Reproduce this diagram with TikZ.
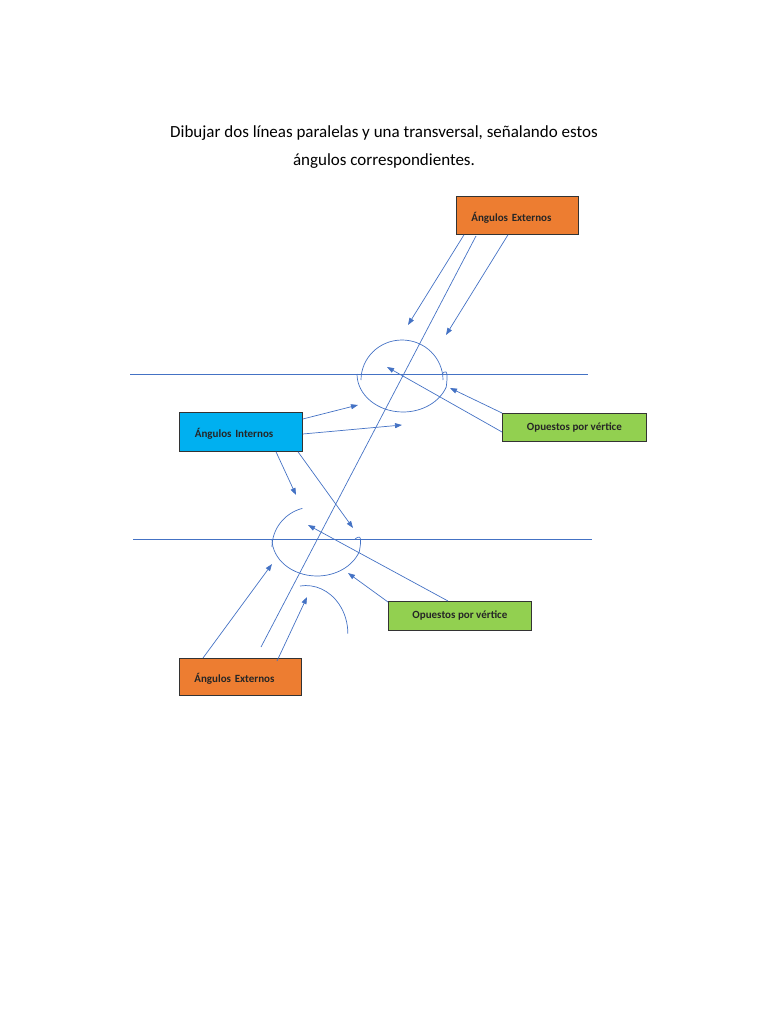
\documentclass[tikz,border=0pt]{standalone}
\usepackage{fontspec}
\setmainfont{Carlito}
\usetikzlibrary{arrows.meta}
\definecolor{ln}{HTML}{4472C4}
\definecolor{org}{HTML}{ED7D31}
\definecolor{blu}{HTML}{00B0F0}
\definecolor{grn}{HTML}{92D050}
\begin{document}
\begin{tikzpicture}[x=1pt,y=-1pt,
  lbl/.style={draw=black!80,line width=0.8pt,anchor=north west,inner sep=0pt,minimum height=#1,font=\fontsize{11}{13}\selectfont\bfseries,text=black!85},
  ln/.style={draw=ln,line width=0.7pt},
  ar/.style={ln,-{Triangle[length=7pt,width=5pt]}}]
\useasboundingbox (0,0) rectangle (768,1024);
\node (t1) at (384,133) {\fontsize{17}{20}\selectfont Dibujar dos líneas paralelas y una transversal, señalando estos};
\node (t2) at (384,161) {\fontsize{17}{20}\selectfont ángulos correspondientes.};
% lines
\coordinate (h1a) at (130,374); \coordinate (h1b) at (588,374);
\coordinate (h2a) at (133,539); \coordinate (h2b) at (592,539);
\coordinate (ta) at (476,236); \coordinate (tb) at (261,647);
\draw[ln] (h1a) -- (h1b);
\draw[ln] (h2a) -- (h2b);
\draw[ln] (ta) -- (tb);
% arcs top
\draw[ln] (357,374) arc[start angle=180,end angle=20,x radius=46,y radius=38] .. controls (449,366) and (444,372) .. (442,374);
\draw[ln] (361,380) arc[start angle=180,end angle=360,x radius=41,y radius=40];
% arcs bottom
\draw[ln] (272,539) arc[start angle=180,end angle=20,x radius=45,y radius=37] .. controls (363,532) and (358,537) .. (355,539);
\draw[ln] (272,547) arc[start angle=180,end angle=255,x radius=41,y radius=40];
\draw[ln] (300,586) arc[start angle=262,end angle=360,x radius=42,y radius=48];
% boxes
\node[lbl=38pt,fill=org,minimum width=122pt,text width=112pt,align=left] (e1) at (456,196) {\raisebox{-14pt}{\hspace*{10pt}Ángulos Externos}};
\node[lbl=39pt,fill=blu,minimum width=123pt,text width=112pt,align=left] (i1) at (179,412) {\raisebox{-14pt}{\hspace*{10pt}Ángulos Internos}};
\node[lbl=28pt,fill=grn,minimum width=144pt] (o1) at (502,413) {Opuestos por vértice};
\node[lbl=29pt,fill=grn,minimum width=143pt] (o2) at (388,601) {Opuestos por vértice};
\node[lbl=37pt,fill=org,minimum width=122pt,text width=112pt,align=left] (e2) at (179,658) {\raisebox{-14pt}{\hspace*{10pt}Ángulos Externos}};
% arrows
\draw[ar] ([xshift=8pt]e1.south west) -- (408,325);
\draw[ar] ([xshift=52pt]e1.south west) -- (446,335);
\draw[ar] (o1.north west) -- (450,388);
\draw[ar] ([yshift=-19pt]o1.north west) -- (387,367);
\draw[ar] ([yshift=-7pt]i1.north east) -- (358,405);
\draw[ar] ([yshift=-22pt]i1.north east) -- (402,425);
\draw[ar] ([xshift=97pt]i1.south west) -- (296,495);
\draw[ar] ([xshift=119pt]i1.south west) -- (353,528);
\draw[ar] ([yshift=-1pt]o2.north west) -- (348,573);
\draw[ar] ([xshift=60pt]o2.north west) -- (308,525);
\draw[ar] ([xshift=24pt]e2.north west) -- (272,564);
\draw[ar] ([xshift=98pt,yshift=-3pt]e2.north west) -- (307,597);
\end{tikzpicture}
\end{document}
